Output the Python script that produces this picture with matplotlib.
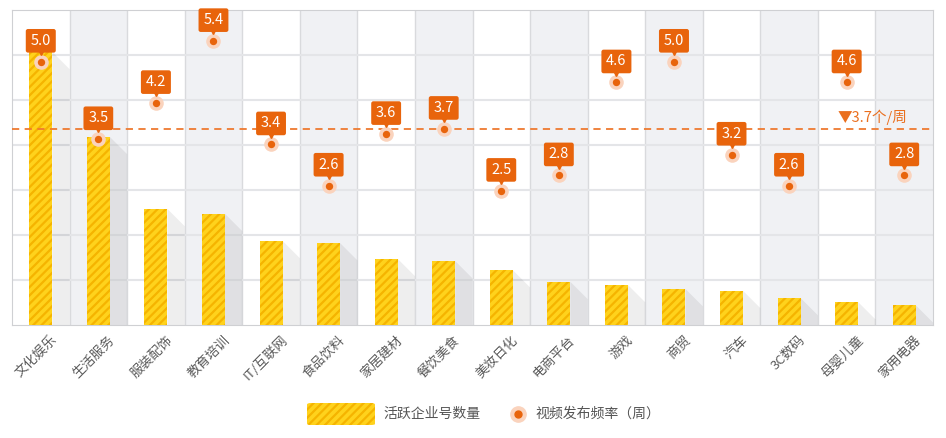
import matplotlib
matplotlib.use('Agg')
import matplotlib.pyplot as plt
import matplotlib.transforms as mtransforms
from matplotlib.patches import Polygon, FancyBboxPatch
from matplotlib.lines import Line2D
import numpy as np

plt.rcParams['font.family'] = ['Noto Sans CJK SC', 'DejaVu Sans']
plt.rcParams['hatch.linewidth'] = 1.6

# 数据
categories = ['文化娱乐', '生活服务', '服装配饰', '教育培训', 'IT/互联网', '食品饮料', '家居建材', '餐饮美食',
              '美妆日化', '电商平台', '游戏', '商贸', '汽车', '3C数码', '母婴儿童', '家用电器']
accounts = [6.07, 4.18, 2.58, 2.47, 1.87, 1.82, 1.47, 1.42, 1.22, 0.96, 0.89, 0.80, 0.76, 0.60, 0.51, 0.44]
freq = [5.0, 3.5, 4.2, 5.4, 3.4, 2.6, 3.6, 3.7, 2.5, 2.8, 4.6, 5.0, 3.2, 2.6, 4.6, 2.8]
avg_freq = 3.7

orange = '#e8640c'
halo = '#fad3bd'
yellow = '#ffd21c'
stripe = '#f5b400'
grid_c = '#e4e5e8'
gray_col = '#f0f1f4'

W, H = 946, 438
fig = plt.figure(figsize=(W / 100, H / 100), dpi=100)
ax_l, ax_r, ax_t, ax_b = 12, 933, 10, 325
ax = fig.add_axes([ax_l / W, 1 - ax_b / H, (ax_r - ax_l) / W, (ax_b - ax_t) / H])

n = len(categories)
x = np.arange(n)
ax.set_xlim(-0.5, n - 0.5)
ax.set_ylim(0, 7)

# 背景交替列
for i in range(n):
    if i % 2 == 1:
        ax.axvspan(i - 0.5, i + 0.5, color=gray_col, zorder=0, lw=0)
for i in range(1, n):
    ax.axvline(i - 0.5, color='#d9dadd', lw=1, zorder=1)
for yv in range(1, 7):
    ax.axhline(yv, color=grid_c, lw=1.5, zorder=1)

# 长阴影
px_x = (ax_r - ax_l) / n
px_y = (ax_b - ax_t) / 7
bw = 0.4
for i, h in enumerate(accounts):
    xr = i + bw / 2
    xc = i + 0.5
    dy = (xc - xr) * px_x / px_y
    poly = Polygon([(xr, h), (xc, h - dy), (xc, 0), (xr, 0)], closed=True,
                   facecolor='black', alpha=0.065, lw=0, zorder=2)
    ax.add_patch(poly)

ax.bar(x, accounts, width=bw, color=yellow, edgecolor=stripe, hatch='////', lw=0, zorder=3)

for s in ax.spines.values():
    s.set_color('#cfd0d3')
ax.set_yticks([])
ax.set_xticks(x)
ax.set_xticklabels(categories, rotation=45, ha='right', rotation_mode='anchor',
                   fontsize=9.5, color='#5a5a5a')
ax.tick_params(axis='x', length=0, pad=6)
for lab in ax.get_xticklabels():
    lab.set_transform(lab.get_transform() + mtransforms.ScaledTranslation(7 / 72, 0, fig.dpi_scale_trans))

# 视频发布频率
ax2 = ax.twinx()
ax2.set_ylim(-0.1, 6.0)
ax2.set_yticks([])
for s in ax2.spines.values():
    s.set_visible(False)

ax2.axhline(avg_freq, color='#ee7a30', lw=1.3, ls=(0, (4, 3)), zorder=4)
ax2.text(13.85, avg_freq + 0.08, '▼3.7个/周', color='#ea6f1e', fontsize=10.5,
         ha='left', va='bottom', zorder=5)

ax2.scatter(x, freq, s=110, color=halo, lw=0, zorder=5)
ax2.scatter(x, freq, s=28, color=orange, lw=0, zorder=6)
tri = ax2.transData + mtransforms.ScaledTranslation(0, 7 / 72, fig.dpi_scale_trans)
ax2.plot(x, freq, ls='none', marker='v', ms=4, color=orange, transform=tri, zorder=6)
for i, v in enumerate(freq):
    ax2.annotate(f'{v:.1f}', (i, v), xytext=(0, 15), textcoords='offset points',
                 ha='center', va='center', color='white', fontsize=10.5, zorder=7,
                 bbox=dict(boxstyle='round,pad=0.33,rounding_size=0.15', fc=orange, ec='none'))

# 图例
leg_patch = FancyBboxPatch((307 / W, 1 - 425 / H), 68 / W, 22 / H,
                           boxstyle='round,pad=0,rounding_size=0.004',
                           transform=fig.transFigure, facecolor=yellow, edgecolor=stripe,
                           hatch='////', lw=0)
fig.patches.append(leg_patch)
fig.text(383 / W, 1 - 414 / H, '活跃企业号数量', fontsize=10, color='#555555', va='center', ha='left')
fig.add_artist(Line2D([518 / W], [1 - 414 / H], marker='o', ms=11, color=halo, ls='none',
                      transform=fig.transFigure))
fig.add_artist(Line2D([518 / W], [1 - 414 / H], marker='o', ms=5, color=orange, ls='none',
                      transform=fig.transFigure))
fig.text(535 / W, 1 - 414 / H, '视频发布频率（周）', fontsize=10, color='#555555', va='center', ha='left')

fig.savefig('out.png', dpi=100)
